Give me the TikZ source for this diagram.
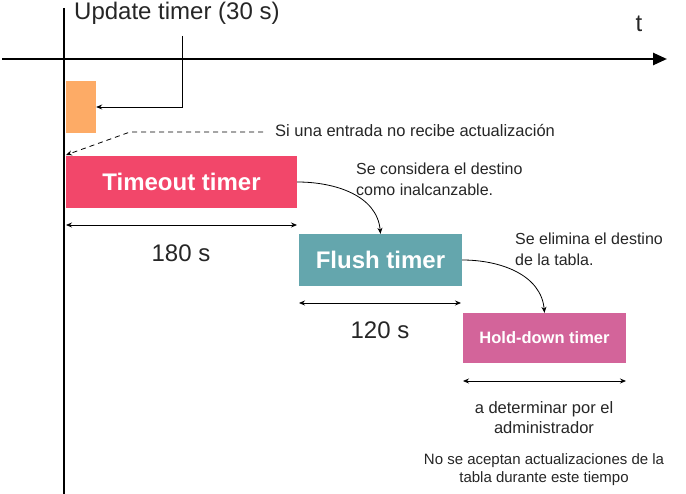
\documentclass[tikz,border=0pt]{standalone}
\usepackage{fontspec}
\setmainfont{Liberation Sans}
\usetikzlibrary{arrows.meta}
\definecolor{orng}{HTML}{FDAB66}
\definecolor{tout}{HTML}{F2476A}
\definecolor{flsh}{HTML}{64A6AD}
\definecolor{hold}{HTML}{D3649A}
\tikzset{box/.style={draw=none,inner sep=0pt,text=white,font=\bfseries},
 txt/.style={inner sep=0pt,text=black!85},
 arr/.style={-{Stealth[length=6pt,width=5pt]},line width=0.8pt},
 dim/.style={{Stealth[length=6pt,width=5pt]}-{Stealth[length=6pt,width=5pt]},line width=0.8pt}}
\begin{document}
\begin{tikzpicture}[x=1pt,y=-1pt]
\useasboundingbox (0,0) rectangle (686,494);
\fill[white] (0,0) rectangle (686,494);
\draw[line width=2.5pt] (64,8) -- (64,494);
\coordinate (ax0) at (2,59); \coordinate (ax1) at (667,59);
\draw[line width=2.5pt,-{Triangle[length=14pt,width=12pt]}] (ax0) -- (ax1);
\node[txt,font=\fontsize{24}{28}\selectfont] (t) at (639,24) {t};
\node[txt,anchor=west,font=\fontsize{24}{28}\selectfont] (upd) at (74,13) {Update timer (30 s)};
\node[box,fill=orng,minimum width=30pt,minimum height=52pt] (or) at (81,107) {};
\coordinate (u1) at (182,36);
\draw[arr] (u1) |- (or.east);
\node[txt,anchor=west,font=\fontsize{16.5}{20}\selectfont] (si) at (275,131) {Si una entrada no recibe actualización};
\coordinate (d1) at (263,132); \coordinate (d2) at (130,132); \coordinate (d3) at (66,155);
\draw[arr,dashed,dash pattern=on 5pt off 4pt] (d1) -- (d2) -- (d3);
\node[box,fill=tout,minimum width=231pt,minimum height=52pt,font=\bfseries\fontsize{24}{28}\selectfont] (to) at (181.5,182) {Timeout timer};
\coordinate (a1) at (66,225); \coordinate (a2) at (297,225);
\draw[dim] (a1) -- (a2);
\node[txt,font=\fontsize{24}{28}\selectfont] (s180) at (181,253) {180 s};
\node[box,fill=flsh,minimum width=163pt,minimum height=52pt,font=\bfseries\fontsize{24}{28}\selectfont] (fl) at (380.5,260) {Flush timer};
\draw[arr] (to.east) to[out=0,in=95] (fl.north);
\node[txt,anchor=north west,align=left,font=\fontsize{16}{21}\selectfont] (c1) at (356,163) {Se considera el destino\\como inalcanzable.};
\coordinate (b1) at (299,303); \coordinate (b2) at (461,303);
\draw[dim] (b1) -- (b2);
\node[txt,font=\fontsize{24}{28}\selectfont] (s120) at (380,330) {120 s};
\node[box,fill=hold,minimum width=163pt,minimum height=50pt,font=\bfseries\fontsize{16.5}{20}\selectfont] (hd) at (544.5,338) {Hold-down timer};
\draw[arr] (fl.east) to[out=0,in=95] (hd.north);
\node[txt,anchor=north west,align=left,font=\fontsize{16}{21}\selectfont] (c2) at (515,233) {Se elimina el destino\\de la tabla.};
\coordinate (h1) at (463,381); \coordinate (h2) at (626,381);
\draw[dim] (h1) -- (h2);
\node[txt,align=center,font=\fontsize{16.5}{20}\selectfont] (adm) at (544,418) {a determinar por el\\administrador};
\node[txt,align=center,font=\fontsize{15}{18}\selectfont] (no) at (544,470) {No se aceptan actualizaciones de la\\tabla durante este tiempo};
\end{tikzpicture}
\end{document}
